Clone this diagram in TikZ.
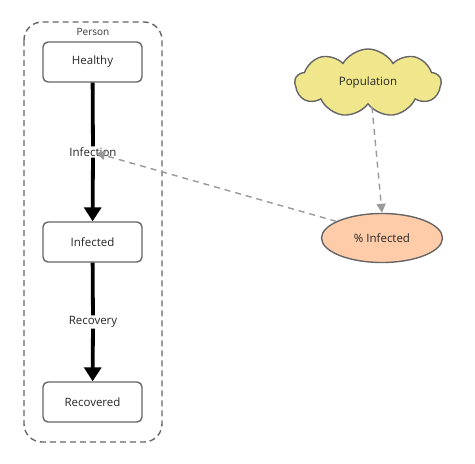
\documentclass[tikz,border=0pt]{standalone}
\usepackage{fontspec}
\setmainfont{Open Sans}
\usetikzlibrary{shapes.symbols,shapes.geometric,arrows.meta}
\definecolor{boxgray}{HTML}{666666}
\definecolor{popfill}{HTML}{F0E68C}
\definecolor{infill}{HTML}{FFCCAA}
\definecolor{dashgray}{HTML}{999999}
\begin{document}
\begin{tikzpicture}[x=1pt,y=-1pt,
  txt/.style={font=\fontsize{11.5}{13}\selectfont,text=black!85},
  statebox/.style={txt,draw=boxgray,line width=1.4pt,rounded corners=5pt,minimum width=99pt,minimum height=40pt,fill=white},
  flow/.style={line width=3.8pt,-{Triangle[length=14pt,width=17pt]}},
  dep/.style={draw=dashgray,line width=1.4pt,dash pattern=on 6pt off 5pt,-{Triangle[length=9pt,width=9pt,fill=dashgray]}},
  lbl/.style={txt,fill=white,inner sep=1pt}]
\useasboundingbox (0,0) rectangle (475,464);
\draw[boxgray,line width=1.4pt,dash pattern=on 6pt off 4pt,rounded corners=18pt] (24,22) rectangle (162,442);
\node[font=\fontsize{10}{12}\selectfont,text=black!80] (person) at (93,32) {Person};
\node[statebox] (healthy) at (92.5,62) {Healthy};
\node[statebox] (infected) at (92.5,242) {Infected};
\node[statebox] (recovered) at (92.5,402) {Recovered};
\node[lbl] (infection) at (93,152) {Infection};
\node[lbl] (recovery) at (93,322) {Recovery};
\draw[line width=3.8pt] (healthy) -- (infection);
\draw[flow] (infection) -- (infected);
\draw[line width=3.8pt] (infected) -- (recovery);
\draw[flow] (recovery) -- (recovered);
\node[cloud,cloud puffs=9,cloud puff arc=120,aspect=2.4,draw=boxgray,line width=1.4pt,fill=popfill,minimum width=146pt,minimum height=68pt,inner sep=0pt,txt] (pop) at (368,83) {Population};
\node[ellipse,draw=boxgray,line width=1.4pt,fill=infill,minimum width=121pt,minimum height=49pt,inner sep=0pt,txt] (pinf) at (382,238) {\% Infected};
\coordinate (infend) at (96,153);
\draw[dep] (pop.south) ++(4,2) coordinate (ps) -- (pinf.north);
\draw[dep] (pinf.160) -- (infend);
\end{tikzpicture}
\end{document}
